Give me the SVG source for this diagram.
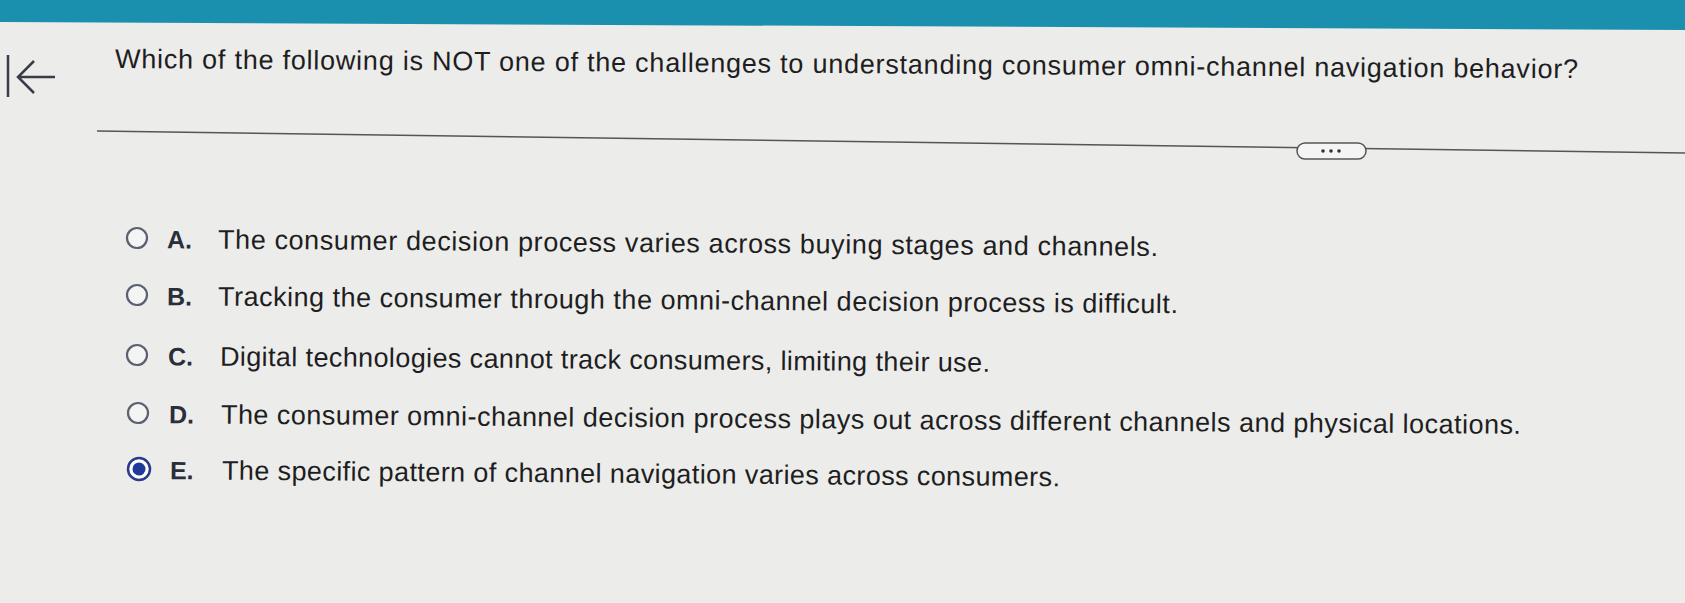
<svg xmlns="http://www.w3.org/2000/svg" width="1685" height="603" viewBox="0 0 1685 603">
<style>
text{font-family:"Liberation Sans",Arial,sans-serif;fill:#1e1e22}
.o{font-size:27px}
.l{font-size:25px;font-weight:bold;fill:#2a2d3a}
.r{fill:#f4f4f4;stroke:#5a6070;stroke-width:2.2}
</style>
<rect width="1685" height="603" fill="#ececea"/>
<polygon points="0,0 1685,0 1685,30 0,22" fill="#1b8fae"/>
<g id="back" stroke="#3a3d48" stroke-width="2.5" fill="none">
<line x1="8" y1="55" x2="8" y2="97"/>
<path d="M55 77 H18 M34 61 L18 77 L34 93"/>
</g>
<text id="question" x="115" y="68" font-size="27" textLength="1463" transform="rotate(0.4 115 68)">Which of the following is NOT one of the challenges to understanding consumer omni-channel navigation behavior?</text>
<g id="connectors"><line x1="97" y1="131" x2="1685" y2="153" stroke="#555" stroke-width="1.5"/></g>
<g id="more"><rect x="1297" y="143" width="69" height="16" rx="8" fill="#f4f4f4" stroke="#555" stroke-width="1.5"/><circle cx="1323" cy="151" r="1.8" fill="#333"/><circle cx="1331" cy="151" r="1.8" fill="#333"/><circle cx="1339" cy="151" r="1.8" fill="#333"/></g>
<g id="optA" transform="rotate(0.45 137 239)"><circle class="r" cx="137" cy="238" r="10"/><text class="l" x="167" y="248">A.</text><text class="o" x="218" y="248" textLength="940">The consumer decision process varies across buying stages and channels.</text></g>
<g id="optB" transform="rotate(0.45 137 296)"><circle class="r" cx="137" cy="295" r="10"/><text class="l" x="167" y="305">B.</text><text class="o" x="218" y="305" textLength="960">Tracking the consumer through the omni-channel decision process is difficult.</text></g>
<g id="optC" transform="rotate(0.45 137 356)"><circle class="r" cx="137" cy="355" r="10"/><text class="l" x="168" y="365">C.</text><text class="o" x="220" y="365" textLength="770">Digital technologies cannot track consumers, limiting their use.</text></g>
<g id="optD" transform="rotate(0.45 138 414)"><circle class="r" cx="138" cy="413" r="10"/><text class="l" x="169" y="423">D.</text><text class="o" x="221" y="423" textLength="1300">The consumer omni-channel decision process plays out across different channels and physical locations.</text></g>
<g id="optE" transform="rotate(0.45 139 470)"><circle cx="139" cy="469" r="11" fill="#fff" stroke="#2a3a8a" stroke-width="2.5"/><circle cx="139" cy="469" r="6.5" fill="#1f3a9a"/><text class="l" x="170" y="479">E.</text><text class="o" x="222" y="479" textLength="838">The specific pattern of channel navigation varies across consumers.</text></g>
</svg>
